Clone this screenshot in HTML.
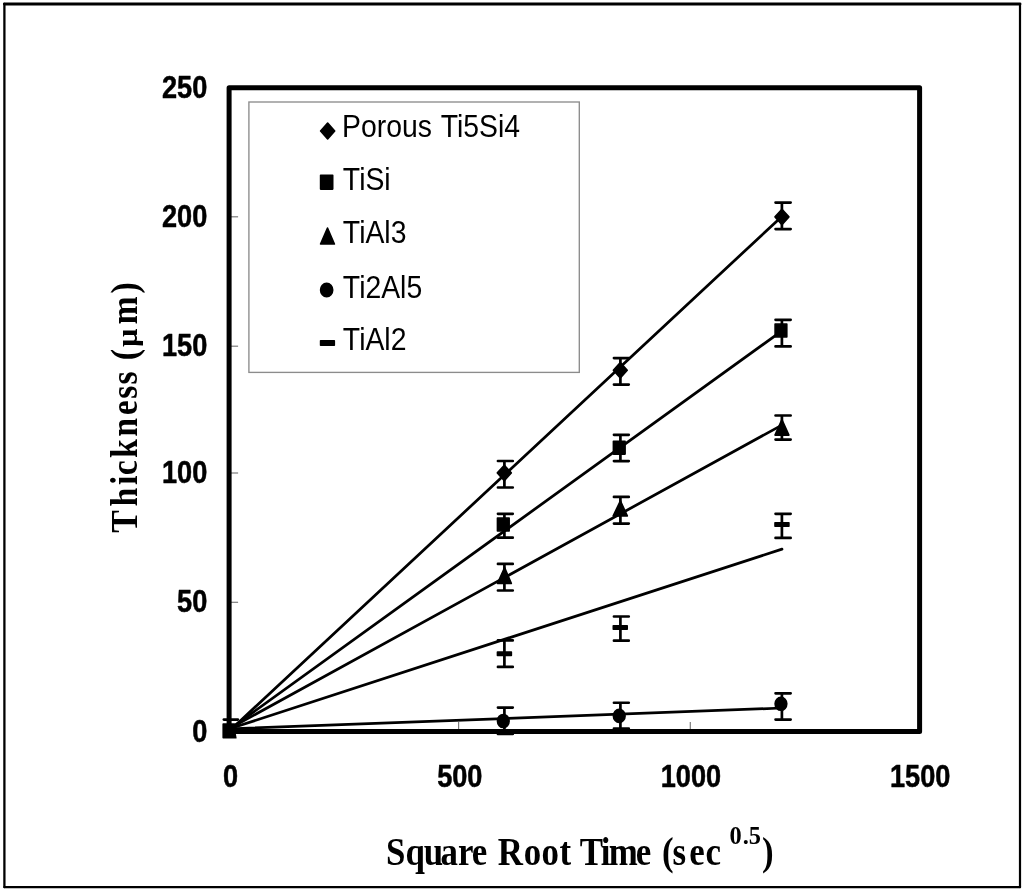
<!DOCTYPE html>
<html><head><meta charset="utf-8"><title>Thickness vs Square Root Time</title>
<style>html,body{margin:0;padding:0;background:#fff;}svg{display:block;}.ab{font-family:"Liberation Sans",Arial,Helvetica,sans-serif;font-weight:bold;fill:#000;stroke:#000;stroke-width:0.5px;stroke-linejoin:round;}.ar{font-family:"Liberation Sans",Arial,Helvetica,sans-serif;fill:#000;}.tb{font-family:"Liberation Serif","Times New Roman",Times,serif;font-weight:bold;fill:#000;}</style></head><body>
<svg width="1024" height="892" viewBox="0 0 1024 892">
<rect x="0" y="0" width="1024" height="892" fill="#fff"/>
<g stroke="#000" stroke-linecap="round" fill="none"><line x1="4.4" y1="3.95" x2="1020" y2="3.95" stroke-width="2.9"/><line x1="4.4" y1="4" x2="4.4" y2="887.1" stroke-width="2.3"/><line x1="1020" y1="4" x2="1020" y2="887.1" stroke-width="2.2"/><line x1="4.4" y1="887.1" x2="1020" y2="887.1" stroke-width="2.4"/></g>
<g stroke="#7c7c7c" stroke-width="1.2">
<line x1="231" y1="216.8" x2="238.1" y2="216.8"/>
<line x1="231" y1="346.2" x2="238.1" y2="346.2"/>
<line x1="231" y1="473" x2="238.1" y2="473"/>
<line x1="231" y1="602.3" x2="238.1" y2="602.3"/>
<line x1="458.6" y1="722" x2="458.6" y2="730"/>
<line x1="690.3" y1="722" x2="690.3" y2="730"/>
</g>
<rect x="248.9" y="102" width="330.4" height="270.4" fill="#fff" stroke="#8c8c8c" stroke-width="1.35"/>
<g stroke="#000" stroke-width="2.75" stroke-linecap="round">
<line x1="229.5" y1="730.9" x2="781.9" y2="216.4"/>
<line x1="229.5" y1="729.3" x2="781.9" y2="330.9"/>
<line x1="229.5" y1="728.6" x2="781.9" y2="425.1"/>
<line x1="229.5" y1="728.8" x2="782" y2="549.1"/>
<line x1="229.5" y1="728.9" x2="781.9" y2="708"/>
</g>
<rect x="229.1" y="87.65" width="690.5" height="643.85" fill="none" stroke="#000" stroke-width="5" stroke-linejoin="round"/>
<g stroke="#000" stroke-width="2.7" stroke-linecap="round" fill="none">
<path d="M497.95 461H512.75M497.95 487.5H512.75M504.4 461V487.5"/>
<path d="M497.95 513.8H512.75M497.95 537.7H512.75M504.4 513.8V537.7"/>
<path d="M497.95 563.9H512.75M497.95 590.5H512.75M504.4 563.9V590.5"/>
<path d="M497.95 640.4H512.75M497.95 666.9H512.75M504.4 640.4V666.9"/>
<path d="M497.95 707.6H512.75M497.95 734H512.75M504.4 707.6V734"/>
<path d="M613.95 358.1H628.75M613.95 384.6H628.75M620.4 358.1V384.6"/>
<path d="M613.95 434.8H628.75M613.95 461.1H628.75M620.4 434.8V461.1"/>
<path d="M613.95 496.9H628.75M613.95 523.6H628.75M620.4 496.9V523.6"/>
<path d="M613.95 616.5H628.75M613.95 640.7H628.75M620.4 616.5V640.7"/>
<path d="M613.95 702.75H628.75M613.95 728.6H628.75M620.4 702.75V728.6"/>
<path d="M775.55 202.6H790.65M775.55 229.1H790.65M781.9 202.6V229.1"/>
<path d="M775.55 319.8H790.65M775.55 346.4H790.65M781.9 319.8V346.4"/>
<path d="M775.55 415.5H790.65M775.55 439.6H790.65M781.9 415.5V439.6"/>
<path d="M775.55 513.8H790.65M775.55 537.9H790.65M781.9 513.8V537.9"/>
<path d="M775.55 693.3H790.65M775.55 719.6H790.65M781.9 693.3V719.6"/>
<path d="M223.9 719.6H237.8"/>
</g>
<g fill="#000" stroke="#000" stroke-width="1.6" stroke-linejoin="round">
<path d="M504.3 465.2L511.25 472.9L504.3 480.6L497.35 472.9Z"/>
<path d="M620.3 362.6L627.25 370.3L620.3 378L613.35 370.3Z"/>
<path d="M781.95 209.2L788.9 216.9L781.95 224.6L775 216.9Z"/>
<rect x="497.45" y="518.05" width="11.7" height="12.9"/>
<rect x="613.4" y="441.2" width="11.7" height="12.9"/>
<rect x="775.1" y="324.05" width="11.7" height="12.9"/>
<path d="M504.6 567.5L511.3 583.4L497.5 583.4Z"/>
<path d="M620.4 500.8L627.3 515.9L613.2 515.9Z"/>
<path d="M781.9 419.7L788.9 435.1L775 435.1Z"/>
<rect x="497.45" y="652" width="13.9" height="3.4"/>
<rect x="613.3" y="625.8" width="13.9" height="3.4"/>
<rect x="775" y="522.8" width="13.9" height="3.4"/>
<ellipse cx="503.3" cy="721" rx="5.85" ry="6.5"/>
<ellipse cx="619.25" cy="715.9" rx="5.85" ry="6.5"/>
<ellipse cx="780.95" cy="703.8" rx="5.85" ry="6.5"/>
<path d="M223.2 724H234.5V731L235.8 737.8H223.2Z"/>
<path d="M327.65 123.1L334.7 131L327.65 138.9L320.6 131Z"/>
<rect x="320.6" y="175.3" width="12.1" height="13.8"/>
<path d="M327.5 228L334.4 244L320.55 244Z"/>
<ellipse cx="326.65" cy="290" rx="6.05" ry="6.7"/>
<rect x="320.6" y="340.85" width="13.7" height="4.3"/>
</g>
<g class="ab" font-size="30.5" text-anchor="end">
<text transform="translate(207.3 97.6) scale(0.89 1)">250</text>
<text transform="translate(207.3 226.9) scale(0.89 1)">200</text>
<text transform="translate(207.3 356.2) scale(0.89 1)">150</text>
<text transform="translate(207.3 483) scale(0.89 1)">100</text>
<text transform="translate(207.3 612.3) scale(0.89 1)">50</text>
<text transform="translate(207.3 741.6) scale(0.89 1)">0</text>
</g>
<g class="ab" font-size="30.5" text-anchor="middle">
<text transform="translate(230.5 786.8) scale(0.89 1)">0</text>
<text transform="translate(459.8 786.8) scale(0.89 1)">500</text>
<text transform="translate(690.9 786.8) scale(0.89 1)">1000</text>
<text transform="translate(920.2 786.8) scale(0.89 1)">1500</text>
</g>
<g class="ar" font-size="31.1">
<text transform="translate(0 137) scale(0.912 1)"><tspan x="375.081">Porous</tspan> <tspan x="483.182">Ti5Si4</tspan></text>
<text transform="translate(342.862 189.6) scale(0.912 1)">TiSi</text>
<text transform="translate(342.862 242.7) scale(0.912 1)">TiAl3</text>
<text transform="translate(342.862 297.7) scale(0.912 1)">Ti2Al5</text>
<text transform="translate(342.862 349.9) scale(0.912 1)">TiAl2</text>
</g>
<text class="tb" font-size="39.2" transform="translate(0 864.6) scale(0.89 1)" x="433.692 455.753 476.267 495.062 514.65 530.183 553.371 559.271 588.515 608.515 628.552 647.865 651.524 675.029 684.1 714.228 737.191 743.693 755.685 774.565 792.804">Square Root Time (sec</text>
<text class="tb" font-size="24.4" transform="translate(0 843.8) scale(1 1)" x="729.4 742.65 748.783">0.5</text>
<text class="tb" font-size="39.2" transform="translate(0 864.6) scale(0.89 1)" x="856.147">)</text>
<g transform="translate(137.3 540) rotate(-90)">
<text class="tb" font-size="38.8" transform="scale(0.87 1)" x="8.315 38.446 63.319 74.543 94.388 118.811 143.355 162.337 178.773 198.736 206.646">Thickness (</text>
<text class="tb" font-size="30" transform="scale(1.08 1)" x="178.719">μ</text>
<text class="tb" font-size="38.8" transform="scale(0.87 1)" x="247.616 283.307">m)</text>
</g>
</svg></body></html>
